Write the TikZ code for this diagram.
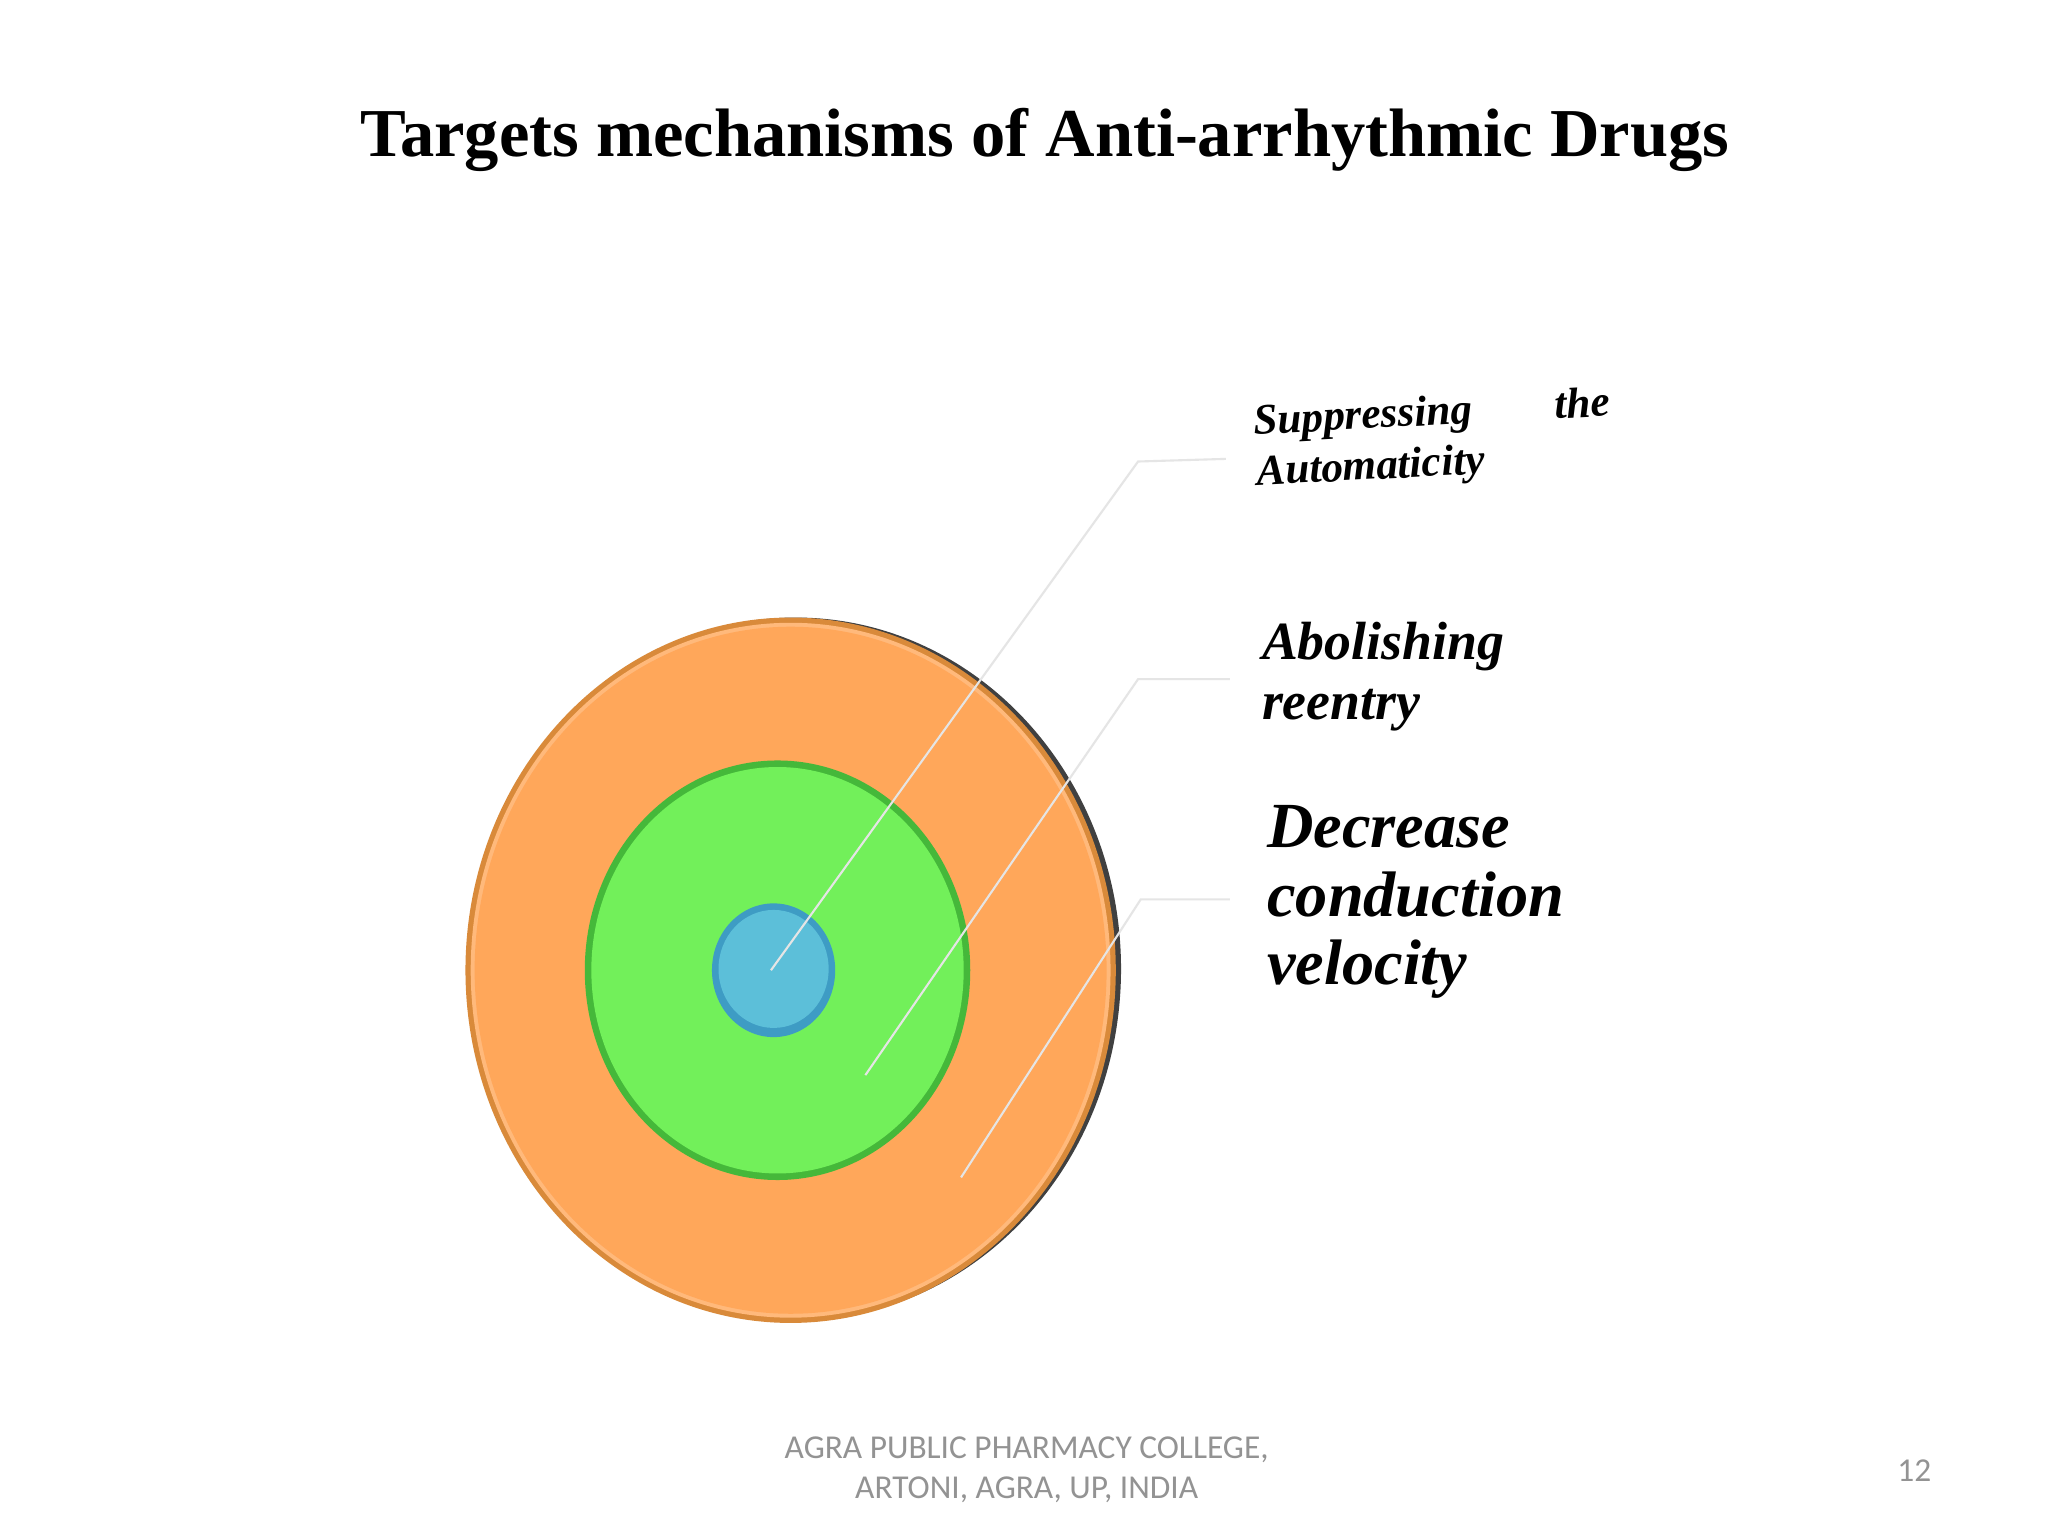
\documentclass[tikz,border=0pt]{standalone}
\usepackage{fontspec}
\setmainfont{Liberation Serif}
\newfontfamily\footfont{Carlito}
\definecolor{orrim}{HTML}{D98A3A}
\definecolor{orfill}{HTML}{FFA75A}
\definecolor{grrim}{HTML}{45B83A}
\definecolor{grfill}{HTML}{72F05A}
\definecolor{blrim}{HTML}{3E9CC4}
\definecolor{blfill}{HTML}{5CBFD9}
\begin{document}
\begin{tikzpicture}[x=0.01311cm,y=-0.01311cm,
  lead/.style={draw=gray!20,line width=0.6pt},
  lab/.style={anchor=north west,align=left,font=\bfseries\itshape,inner sep=0pt},
  foot/.style={text=gray!85,font=\footfont\fontsize{9.5}{11.5}\selectfont,align=center}]
\useasboundingbox (0,0) rectangle (1562,1172);
\fill[white] (0,0) rectangle (1562,1172);
\node[font=\bfseries\fontsize{19.5}{23}\selectfont] (title) at (797,107) {Targets mechanisms of Anti-arrhythmic Drugs};
% shadow
\fill[black!75] (607,739) ellipse [x radius=248,y radius=268];
\fill[orrim] (603,740) ellipse [x radius=248,y radius=269];
\fill[orfill!80!white] (603,740) ellipse [x radius=244,y radius=265];
\fill[orfill] (603,740) ellipse [x radius=241,y radius=262];
\fill[grrim] (593,740) ellipse [x radius=147,y radius=160];
\fill[grfill] (593,740) ellipse [x radius=142,y radius=155];
\fill[blrim] (590,740) ellipse [x radius=47,y radius=51];
\fill[blfill] (590,739) ellipse [x radius=42,y radius=45];
\coordinate (a0) at (588,740); \coordinate (a1) at (868,352); \coordinate (a2) at (935,350);
\coordinate (b0) at (660,820); \coordinate (b1) at (868,518); \coordinate (b2) at (938,518);
\coordinate (c0) at (733,898); \coordinate (c1) at (870,686); \coordinate (c2) at (938,686);
\draw[lead] (a0) -- (a1) -- (a2);
\draw[lead] (b0) -- (b1) -- (b2);
\draw[lead] (c0) -- (c1) -- (c2);
\node[lab,rotate=3,font=\bfseries\itshape\fontsize{12.3}{14.5}\selectfont,anchor=west] (t1) at (957,343) {Suppressing\hspace{1.9em}the\\Automaticity};
\node[lab,font=\bfseries\itshape\fontsize{15.3}{17}\selectfont] (t2) at (962,474) {Abolishing\\reentry};
\node[lab,font=\bfseries\itshape\fontsize{18.3}{19.5}\selectfont] (t3) at (966,614) {Decrease\\conduction\\velocity};
\node[foot] (f1) at (783,1121) {AGRA PUBLIC PHARMACY COLLEGE,\\ARTONI, AGRA, UP, INDIA};
\node[foot] (f2) at (1460,1122) {12};
\end{tikzpicture}
\end{document}
